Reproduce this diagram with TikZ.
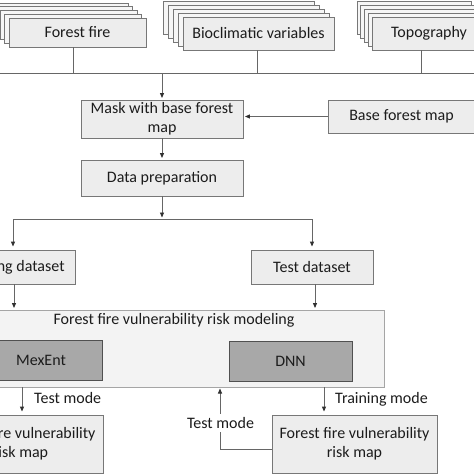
\documentclass[tikz,border=0pt]{standalone}
\usepackage{fontspec}
\setmainfont{Carlito}
\usetikzlibrary{arrows.meta}
\definecolor{boxfill}{HTML}{EDEDED}
\definecolor{boxdraw}{HTML}{777777}
\definecolor{backfill}{HTML}{F6F6F6}
\definecolor{modfill}{HTML}{F3F3F3}
\definecolor{moddraw}{HTML}{A5A5A5}
\definecolor{algfill}{HTML}{A8A8A8}
\definecolor{algdraw}{HTML}{505050}
\definecolor{linec}{HTML}{666666}
\definecolor{tipc}{HTML}{303030}
\definecolor{txt}{HTML}{1C1C1C}
\begin{document}
\begin{tikzpicture}[x=1pt,y=-1pt,
  every node/.style={text=txt, font=\fontsize{16pt}{19pt}\selectfont},
  box/.style={draw=boxdraw, fill=boxfill, line width=0.9pt, inner sep=0pt, align=center},
  backbox/.style={draw=boxdraw, fill=backfill, line width=0.8pt},
  modbox/.style={draw=moddraw, fill=modfill, line width=0.9pt, inner sep=0pt},
  algbox/.style={draw=algdraw, fill=algfill, line width=0.9pt, inner sep=0pt, align=center},
  conn/.style={draw=linec, line width=0.9pt},
  arr/.style={conn, -{Triangle[length=5pt,width=4pt,color=tipc]}, shorten >=1.5pt},
  lbl/.style={inner sep=1pt}
]
\useasboundingbox (0,0) rectangle (474,474);
\fill[white] (0,0) rectangle (474,474);

% input stacks
\foreach \k in {4,3,2,1}
  \draw[backbox] ({9-4.5*\k},{18-3.75*\k}) rectangle ({146-4.5*\k},{47-3.75*\k});
\node[box, minimum width=137pt, minimum height=29pt] (ff) at (77.5,32.5) {Forest fire};

\foreach \k in {4,3,2,1}
  \draw[backbox] ({183-5*\k},{17-4*\k}) rectangle ({334-5*\k},{50-4*\k});
\node[box, minimum width=151pt, minimum height=33pt] (bio) at (258.5,33.5) {Bioclimatic variables};

\foreach \k in {4,3,2,1}
  \draw[backbox] ({372-3.75*\k},{17-4*\k}) rectangle ({486-3.75*\k},{50-4*\k});
\node[box, minimum width=114pt, minimum height=33pt] (topo) at (429,33.5) {Topography};

% collector line
\coordinate (hl) at (0,73);
\coordinate (hr) at (474,73);
\draw[conn] (hl) -- (hr);
\draw[conn] ([xshift=-4.5pt]ff.south) -- ([xshift=-4.5pt]ff.south |- hl);
\draw[conn] ([xshift=-1.5pt]bio.south) -- ([xshift=-1.5pt]bio.south |- hl);
\draw[conn] ([xshift=-8pt]topo.south) -- ([xshift=-8pt]topo.south |- hl);

% masking
\node[box, minimum width=162pt, minimum height=38pt] (mask) at (162,119) {Mask with base forest\\map};
\node[box, minimum width=147pt, minimum height=33pt] (bfm) at (401.5,116.5) {Base forest map};
\draw[arr] (mask.north |- hl) -- (mask.north);
\draw[arr] (bfm.west) -- (bfm.west -| mask.east);

% data preparation
\node[box, minimum width=162pt, minimum height=36pt] (dp) at (162,178) {Data preparation};
\draw[arr] (mask.south) -- (dp.north);

\node[box, minimum width=124pt, minimum height=34pt] (train) at (13,267) {Training dataset};
\node[box, minimum width=122pt, minimum height=34pt] (test) at (312,267) {Test dataset};
\coordinate (split) at (162,219);
\draw[arr] (dp.south) -- (split);
\draw[arr, shorten >=3pt] (split) -| (train.north);
\draw[arr, shorten >=3pt] (split) -| (test.north);

% modelling
\node[modbox, minimum width=420pt, minimum height=77pt] (model) at (174,348.5) {};
\node (title) at (174,320) {Forest fire vulnerability risk modeling};
\node[algbox, minimum width=122pt, minimum height=40pt] (mex) at (41,360.5) {MexEnt};
\node[algbox, minimum width=123pt, minimum height=40pt] (dnn) at (290.5,361) {DNN};
\draw[arr] ([xshift=1pt]train.south) -- ([xshift=1pt]train.south |- model.north);
\draw[arr] ([xshift=3pt]test.south) -- ([xshift=3pt]test.south |- model.north);

% outputs
\node[box, minimum width=165pt, minimum height=58pt] (lmap) at (20.5,444) {Forest fire vulnerability\\risk map};
\node[box, minimum width=165pt, minimum height=58pt] (rmap) at (354.5,444) {Forest fire vulnerability\\risk map};

\draw[arr, shorten >=3pt] ([xshift=1.5pt]lmap.north |- model.south) -- ([xshift=1.5pt]lmap.north);
\node[lbl, anchor=west] (tm1) at (33,398) {Test mode};
\draw[arr, shorten >=3pt] ([xshift=-30.5pt]rmap.north |- model.south) -- ([xshift=-30.5pt]rmap.north);
\node[lbl, anchor=west] (trm) at (334,399) {Training mode};

\coordinate (fb) at (220,387);
\draw[arr] ([yshift=-5pt]rmap.west) -| (fb);
\node[lbl, fill=white, inner ysep=3pt] (tm2) at (220.5,423) {Test mode};
\end{tikzpicture}
\end{document}
